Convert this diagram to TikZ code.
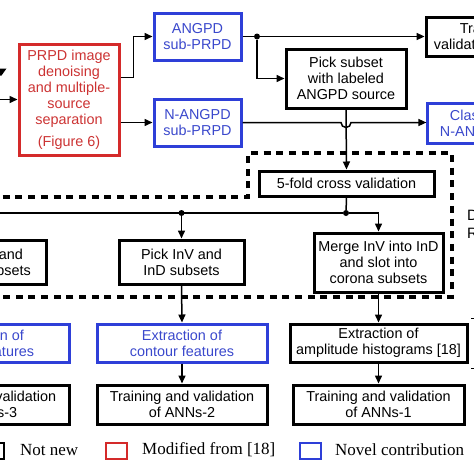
\documentclass[tikz,border=0pt]{standalone}
\usepackage{fontspec}
\setmainfont{Liberation Serif}
\setsansfont{Liberation Sans}
\usepackage{xcolor}
\usetikzlibrary{arrows.meta,calc}
\definecolor{boxred}{HTML}{D42A2A}
\definecolor{boxblue}{HTML}{2E3FD8}
\definecolor{textred}{HTML}{CC3333}
\definecolor{textblue}{HTML}{3A48CC}

\begin{document}
\begin{tikzpicture}[x=1pt,y=-1pt,
  stage/.style={draw=black,line width=3pt,inner sep=0pt,align=center,
    font=\sffamily\fontsize{14.4}{16}\selectfont},
  modstage/.style={stage,draw=boxred,text=textred},
  newstage/.style={stage,draw=boxblue,text=textblue},
  flow/.style={line width=1.5pt,-{Triangle[length=8pt,width=7pt]}},
  link/.style={line width=1.5pt},
  junction/.style={circle,fill=black,inner sep=0pt,minimum size=6pt},
  swatch/.style={draw=#1,line width=2.2pt,minimum width=21pt,minimum height=16pt,inner sep=0pt},
  legtext/.style={anchor=west,inner sep=0pt,font=\fontsize{17}{20}\selectfont},
  region/.style={line width=4pt,dash pattern=on 7pt off 5.7pt}]

  \useasboundingbox (0,0) rectangle (474,474);
  \clip (0,0) rectangle (474,474);

  % first row
  \node[modstage,minimum width=100,minimum height=111] (sep) at (69,99.5)
    {PRPD image\\denoising\\and multiple-\\source\\separation\\[6pt](Figure 6)};
  \node[newstage,minimum width=87,minimum height=47] (angpd) at (197.5,36.5) {ANGPD\\sub-PRPD};
  \node[newstage,minimum width=87,minimum height=47] (nangpd) at (197.5,122.5) {N-ANGPD\\sub-PRPD};
  \node[stage,minimum width=120,minimum height=59] (pick) at (346,78.5) {Pick subset\\with labeled\\ANGPD source};
  \node[stage,minimum width=147,minimum height=39] (trainang) at (499.6,36.5) {Training and\\validation of ANNs-0};
  \node[newstage,minimum width=145,minimum height=40] (classn) at (500.4,123) {Classification of\\N-ANGPD sources};

  % cross validation
  \node[stage,minimum width=175,minimum height=25] (fold) at (346.5,183.5) {5-fold cross validation};
  \node[stage,minimum width=128,minimum height=44] (pickl) at (-18,262) {Pick InD and\\corona subsets};
  \node[stage,minimum width=125,minimum height=44] (pickinv) at (181.5,262) {Pick InV and\\InD subsets};
  \node[stage,minimum width=129,minimum height=59] (merge) at (378.5,262.5) {Merge InV into InD\\and slot into\\corona subsets};
  \node[anchor=north west,inner sep=0pt,align=left,font=\sffamily\fontsize{15}{18}\selectfont] (datalabel) at (467,210) {D\\R};

  % features and training
  \node[newstage,minimum width=170,minimum height=38] (extl) at (-16,343) {Extraction of\\texture features};
  \node[newstage,minimum width=170,minimum height=38] (extc) at (182,343) {Extraction of\\contour features};
  \node[stage,minimum width=177,minimum height=38] (extamp) at (378.5,343) {Extraction of\\amplitude histograms [18]};
  \node[stage,minimum width=170,minimum height=39] (trl) at (-16,404.5) {Training and validation\\of ANNs-3};
  \node[stage,minimum width=170,minimum height=39] (trc) at (182,404.5) {Training and validation\\of ANNs-2};
  \node[stage,minimum width=171,minimum height=39] (tra) at (378.5,404.5) {Training and validation\\of ANNs-1};

  % connectors
  \coordinate (feed) at (-10,99.5);
  \draw[flow] (feed) -- (sep.west);
  \fill (0,68.5) -- (6.5,68.5) -- (1.5,75.5) -- (0,75.5) -- cycle;
  \draw[flow] ([yshift=22pt]sep.east) -- ++(13,0) |- (angpd.west);
  \draw[flow] (sep.east |- nangpd.west) -- (nangpd.west);
  \node[junction] (split1) at (257,36.5) {};
  \draw[flow] (angpd.east) -- (trainang.west);
  \draw[flow] (split1) |- (pick.west);
  \draw[flow] (nangpd.east) -- ($(pick.south |- nangpd.east)+(-5,0)$)
    arc[start angle=180,end angle=0,radius=5] -- (classn.west |- nangpd.east);
  \draw[flow] (pick.south) -- (fold.north);
  \node[junction] (split2) at (346,213) {};
  \node[junction] (split3) at (181.5,213) {};
  \draw[link] (fold.south) -- (split2);
  \draw[flow] (split2) -| (merge.north);
  \draw[flow] (split2) -| (pickl.north);
  \draw[flow] (split3) -- (pickinv.north);
  \draw[flow] (pickl.south) -- (extl.north);
  \draw[flow] (pickinv.south) -- (extc.north);
  \draw[flow] (merge.south) -- (extamp.north);
  \draw[flow] (extl.south) -- (trl.north);
  \draw[flow] (extc.south) -- (trc.north);
  \draw[flow] (extamp.south) -- (tra.north);

  % data preparation region
  \draw[region] (-10,197) -- (248,197) -- (248,153) -- (452,153) -- (452,297) -- (-10,297);
  \draw[line width=1pt] (471,318) -- (474,318);
  \draw[line width=1pt] (471,368) -- (474,368);

  % legend
  \node[swatch=black] (keyold) at (-6.5,451) {};
  \node[legtext] (keyoldtext) at (20,450) {Not new};
  \node[swatch=boxred] (keymod) at (116.5,451) {};
  \node[legtext] (keymodtext) at (142,450) {Modified from [18]};
  \node[swatch=boxblue] (keynew) at (310.5,451) {};
  \node[legtext] (keynewtext) at (335,450) {Novel contribution};
\end{tikzpicture}
\end{document}
